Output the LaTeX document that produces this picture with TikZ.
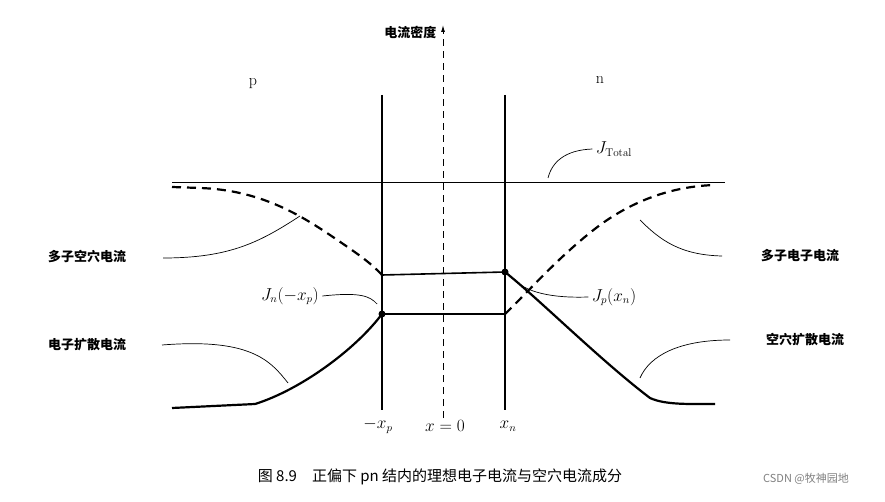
\documentclass[tikz,border=0pt]{standalone}
\usepackage{fontspec}
\newfontfamily\cjk{Noto Sans CJK SC}
\usetikzlibrary{arrows.meta}
\begin{document}
\begin{tikzpicture}[x=1pt,y=-1pt,
  thin line/.style={line width=0.9pt},
  thick curve/.style={line width=2.2pt},
  lead/.style={line width=0.7pt},
  lbl/.style={font=\cjk\bfseries\fontsize{13}{13}\selectfont},
  mlbl/.style={font=\fontsize{16}{16}\selectfont},
  dot/.style={circle,fill,inner sep=0pt,minimum size=7pt}]
\useasboundingbox (0,0) rectangle (885,502);
% axis
\coordinate (ab) at (443,418);
\coordinate (at) at (443,25);
\draw[thin line,dashed,dash pattern=on 7pt off 5pt,-{Latex[length=7pt,width=4pt]}] (ab) -- (at);
\node[lbl,anchor=east] (axl) at (440,32) {电流密度};
% boundaries
\coordinate (l1) at (382,95); \coordinate (l2) at (382,410);
\coordinate (r1) at (505,95); \coordinate (r2) at (505,410);
\draw[line width=1.2pt] (l1) -- (l2);
\draw[line width=1.2pt] (r1) -- (r2);
% total
\coordinate (t1) at (172,182); \coordinate (t2) at (725,182);
\draw[thin line] (t1) -- (t2);
% rectangle
\coordinate (a) at (382,275); \coordinate (b) at (505,272);
\coordinate (c) at (382,314); \coordinate (d) at (505,314);
\draw[line width=1.6pt] (a) -- (b);
\draw[line width=1.6pt] (c) -- (d);
\node[dot] (db) at (b) {};
\node[dot] (dc) at (c) {};
% dashed curves
\draw[thick curve,dashed,dash pattern=on 9pt off 6pt] (172,187) -- (200,188) .. controls (260,190) and (300,215) .. (330,235) .. controls (355,252) and (370,262) .. (a);
\draw[thick curve,dashed,dash pattern=on 9pt off 6pt] (d) .. controls (530,290) and (560,255) .. (600,225) .. controls (640,196) and (680,186) .. (715,185);
% solid curves
\draw[thick curve] (172,408) -- (255,404) .. controls (300,390) and (355,350) .. (c);
\draw[thick curve] (b) .. controls (540,300) and (600,360) .. (650,398) .. controls (665,405) and (690,404) .. (715,404);
% labels
\node[mlbl] (pl) at (253,84) {p};
\node[mlbl] (nl) at (600,80) {n};
\node[mlbl] (jt) at (614,149) {$J_{\mathrm{Total}}$};
\draw[lead] (548,178) .. controls (552,162) and (565,150) .. (jt.west);
\node[lbl] (m1) at (87,257) {多子空穴电流};
\draw[lead] (163,258) .. controls (230,258) and (260,242) .. (300,216);
\node[lbl] (m2) at (800,256) {多子电子电流};
\draw[lead] (722,256) .. controls (680,255) and (660,240) .. (640,220);
\node[lbl] (e1) at (87,345) {电子扩散电流};
\draw[lead] (162,345) .. controls (250,338) and (270,360) .. (288,383);
\node[lbl] (h1) at (805,340) {空穴扩散电流};
\draw[lead] (730,340) .. controls (680,340) and (650,355) .. (640,378);
\node[mlbl] (jn) at (290,296) {$J_n(-x_p)$};
\draw[lead] (jn.east) .. controls (360,292) and (370,296) .. (377,304);
\node[mlbl] (jp) at (614,297) {$J_p(x_n)$};
\draw[lead] (514,280) .. controls (530,295) and (560,298) .. (jp.west);
\node[mlbl] (x1) at (378,426) {$-x_p$};
\node[mlbl] (x0) at (445,426) {$x=0$};
\node[mlbl] (x2) at (508,426) {$x_n$};
\node[font=\cjk\fontsize{15}{15}\selectfont] (cap) at (440,477) {图 8.9\quad 正偏下 pn 结内的理想电子电流与空穴电流成分};
\node[font=\cjk\fontsize{11}{11}\selectfont,text=gray] (wm) at (806,479) {CSDN @牧神园地};
\end{tikzpicture}
\end{document}
